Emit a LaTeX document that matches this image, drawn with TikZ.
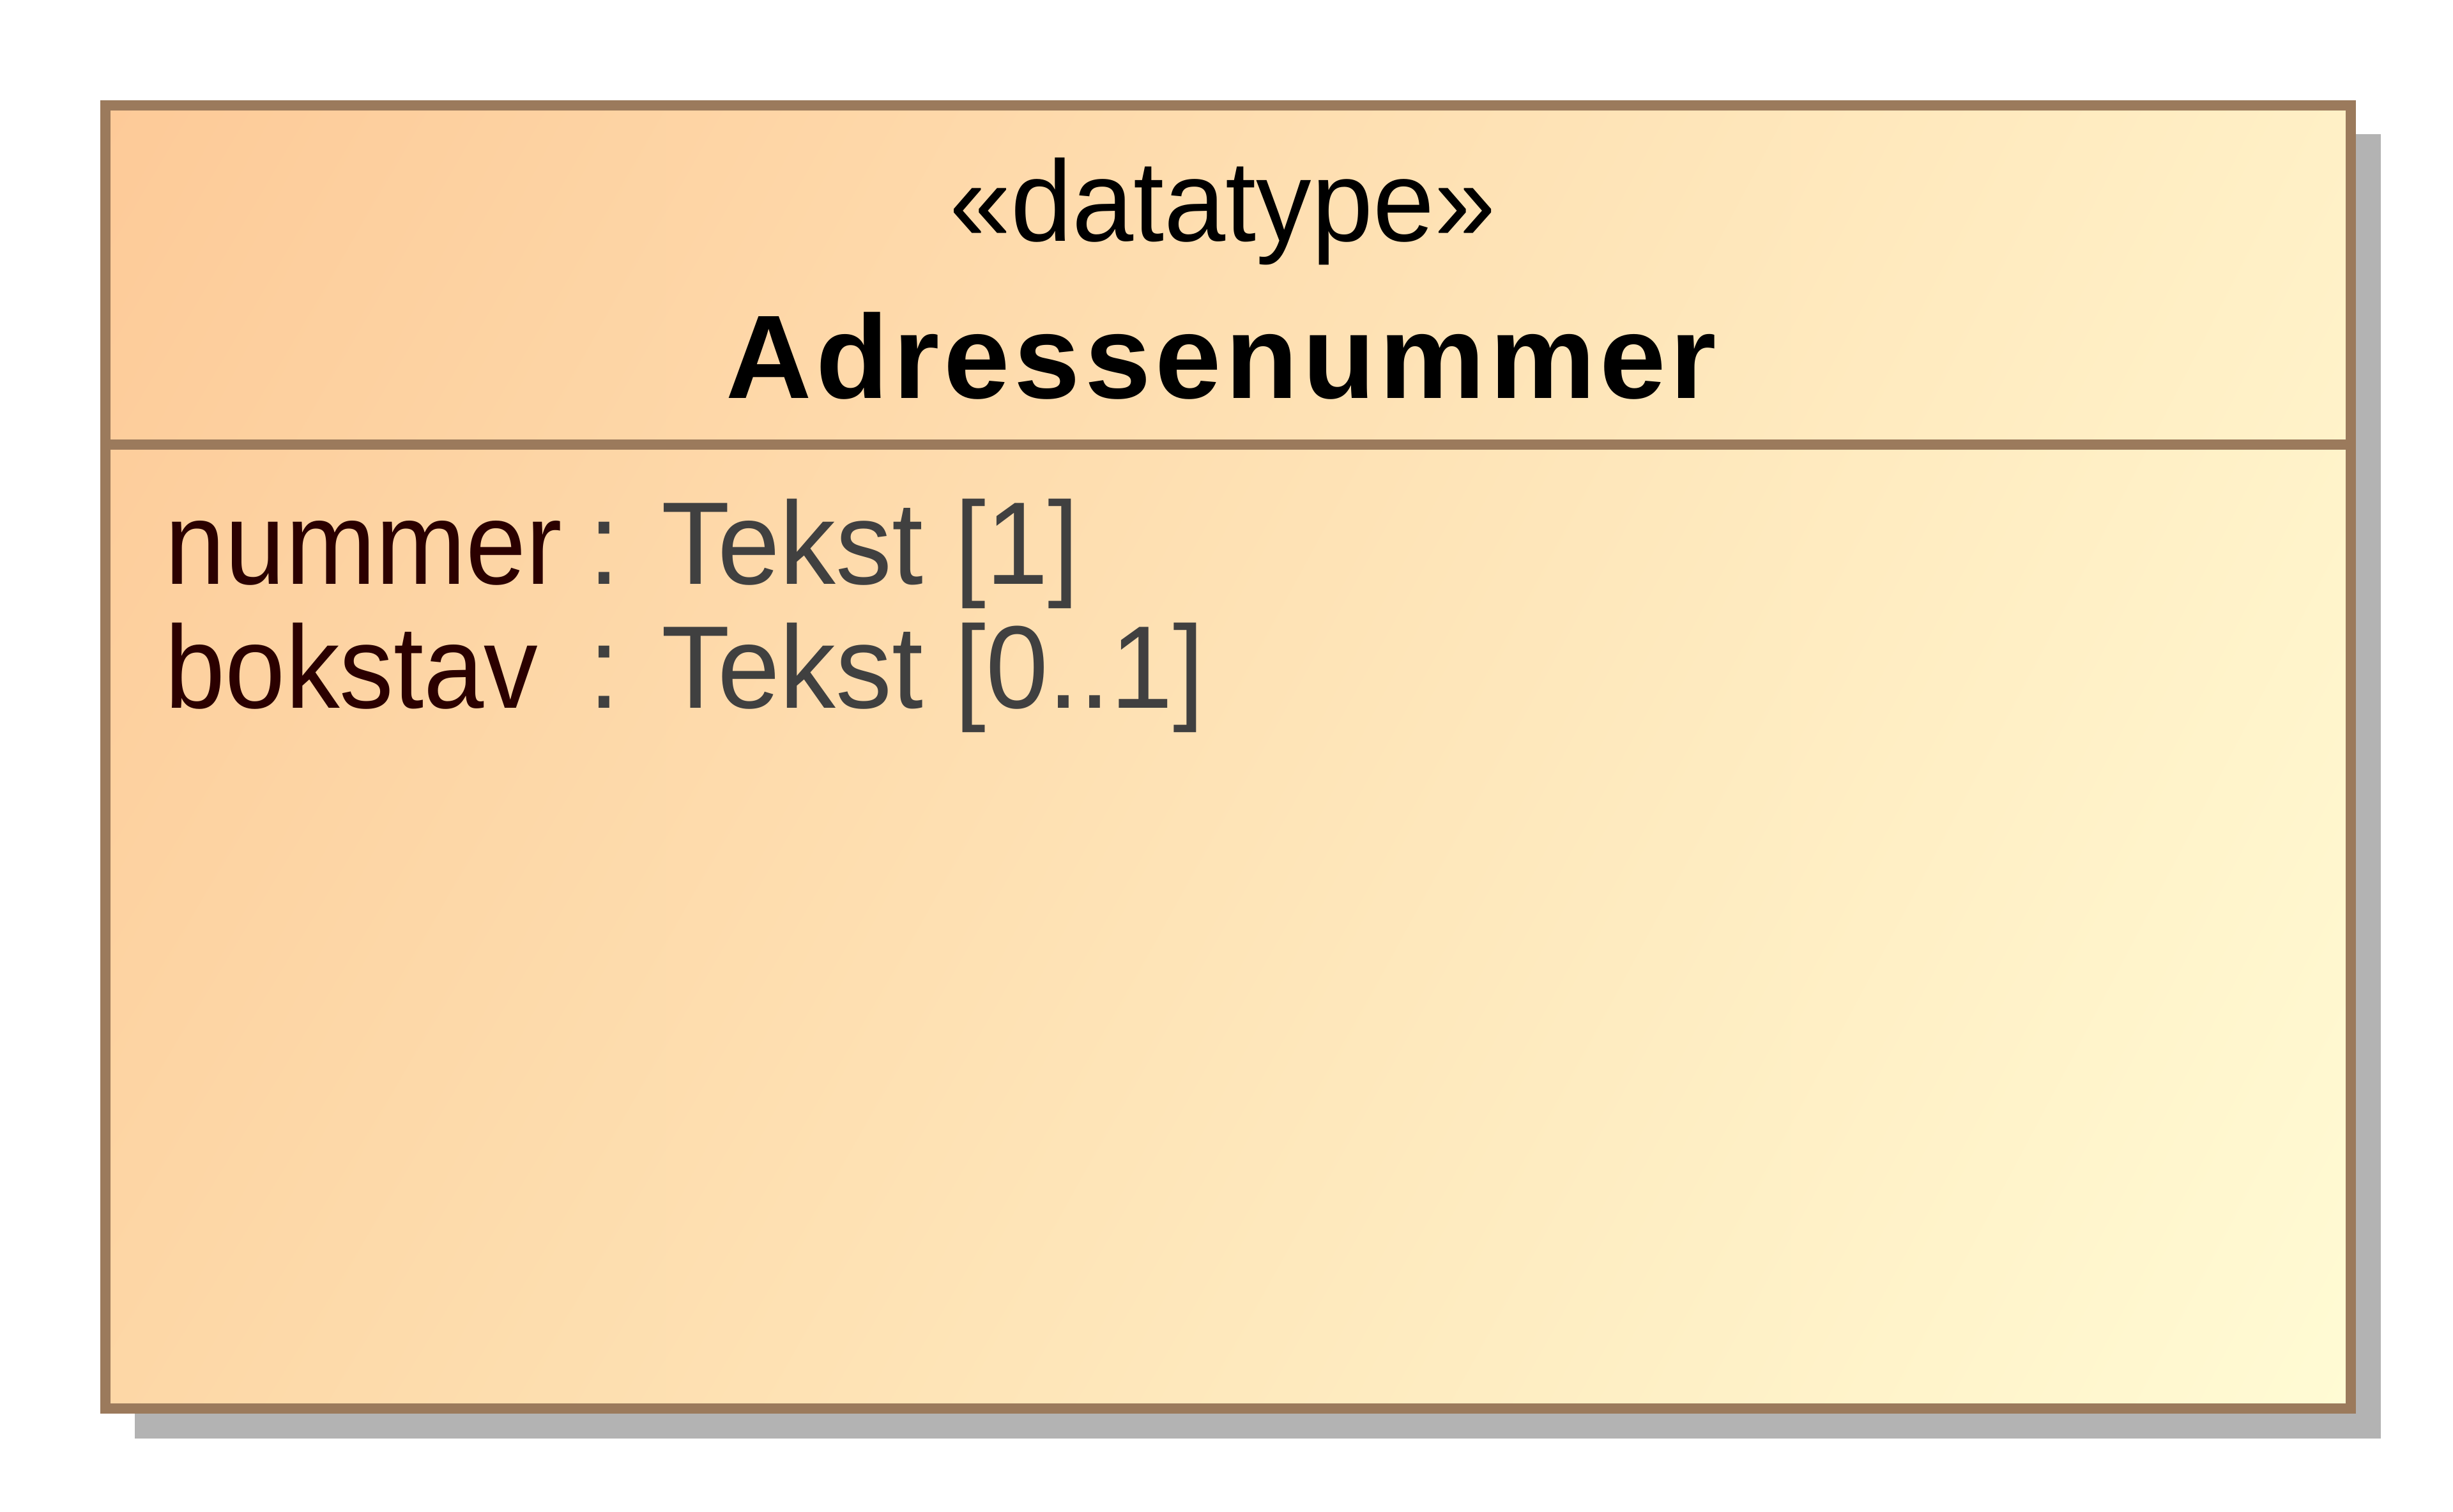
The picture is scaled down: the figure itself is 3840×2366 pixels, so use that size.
\documentclass[tikz,border=0pt]{standalone}
\usepackage{fontspec}
\usetikzlibrary{shadings}
\setmainfont{Liberation Sans}
\newfontfamily\attrfont[FakeStretch=0.92]{Liberation Sans}
\newfontfamily\typefont[FakeStretch=0.955]{Liberation Sans}
\newfontfamily\stereofont[FakeStretch=0.96]{Liberation Sans}
\newfontfamily\titlefont[LetterSpace=3.7]{Liberation Sans}
\definecolor{shadowgray}{HTML}{B3B3B3}
\definecolor{bordercol}{HTML}{9B7A5C}
\definecolor{fillUL}{HTML}{FDCA98}
\definecolor{fillUR}{HTML}{FFF0C6}
\definecolor{fillLL}{HTML}{FDD7A6}
\definecolor{fillLR}{HTML}{FFFBD4}
\definecolor{namecol}{HTML}{2B0000}
\definecolor{typecol}{HTML}{404040}
\tikzset{
  borderline/.style={draw=bordercol, line width=4.3pt},
  attrtext/.style={anchor=base west, inner sep=0pt, font=\attrfont\fontsize{52.35pt}{55pt}\selectfont},
}
\begin{document}
\begin{tikzpicture}[x=0.01cm,y=-0.01cm]
\useasboundingbox (0,0) rectangle (3840,2366);
\fill[white] (0,0) rectangle (3840,2366);
% shadow
\fill[shadowgray] (211,210) rectangle (3727,2252);
% gradient body
\shade[upper left=fillUL, upper right=fillUR, lower left=fillLL, lower right=fillLR] (165,165) rectangle (3680,2205);
% frame and compartment divider
\draw[borderline] (165,165) rectangle (3680,2205);
\coordinate (divL) at (165,696);
\coordinate (divR) at (3680,696);
\draw[borderline] (divL) -- (divR);
% header
\node[anchor=base, inner sep=0pt, font=\stereofont\fontsize{51.2pt}{54pt}\selectfont] (stereo) at (1914,377) {«datatype»};
\node[anchor=base, inner sep=0pt, font=\titlefont\bfseries\fontsize{52.9pt}{55pt}\selectfont] (cname) at (1912,623) {Adressenummer};
% attributes
\node[attrtext] (attr1) at (258,914) {\makebox[6.62cm][l]{\color{namecol}nummer}{\typefont\color{typecol}: Tekst [1]}};
\node[attrtext] (attr2) at (258,1108) {\makebox[6.62cm][l]{\color{namecol}bokstav}{\typefont\color{typecol}: Tekst [0..1]}};
\end{tikzpicture}
\end{document}
